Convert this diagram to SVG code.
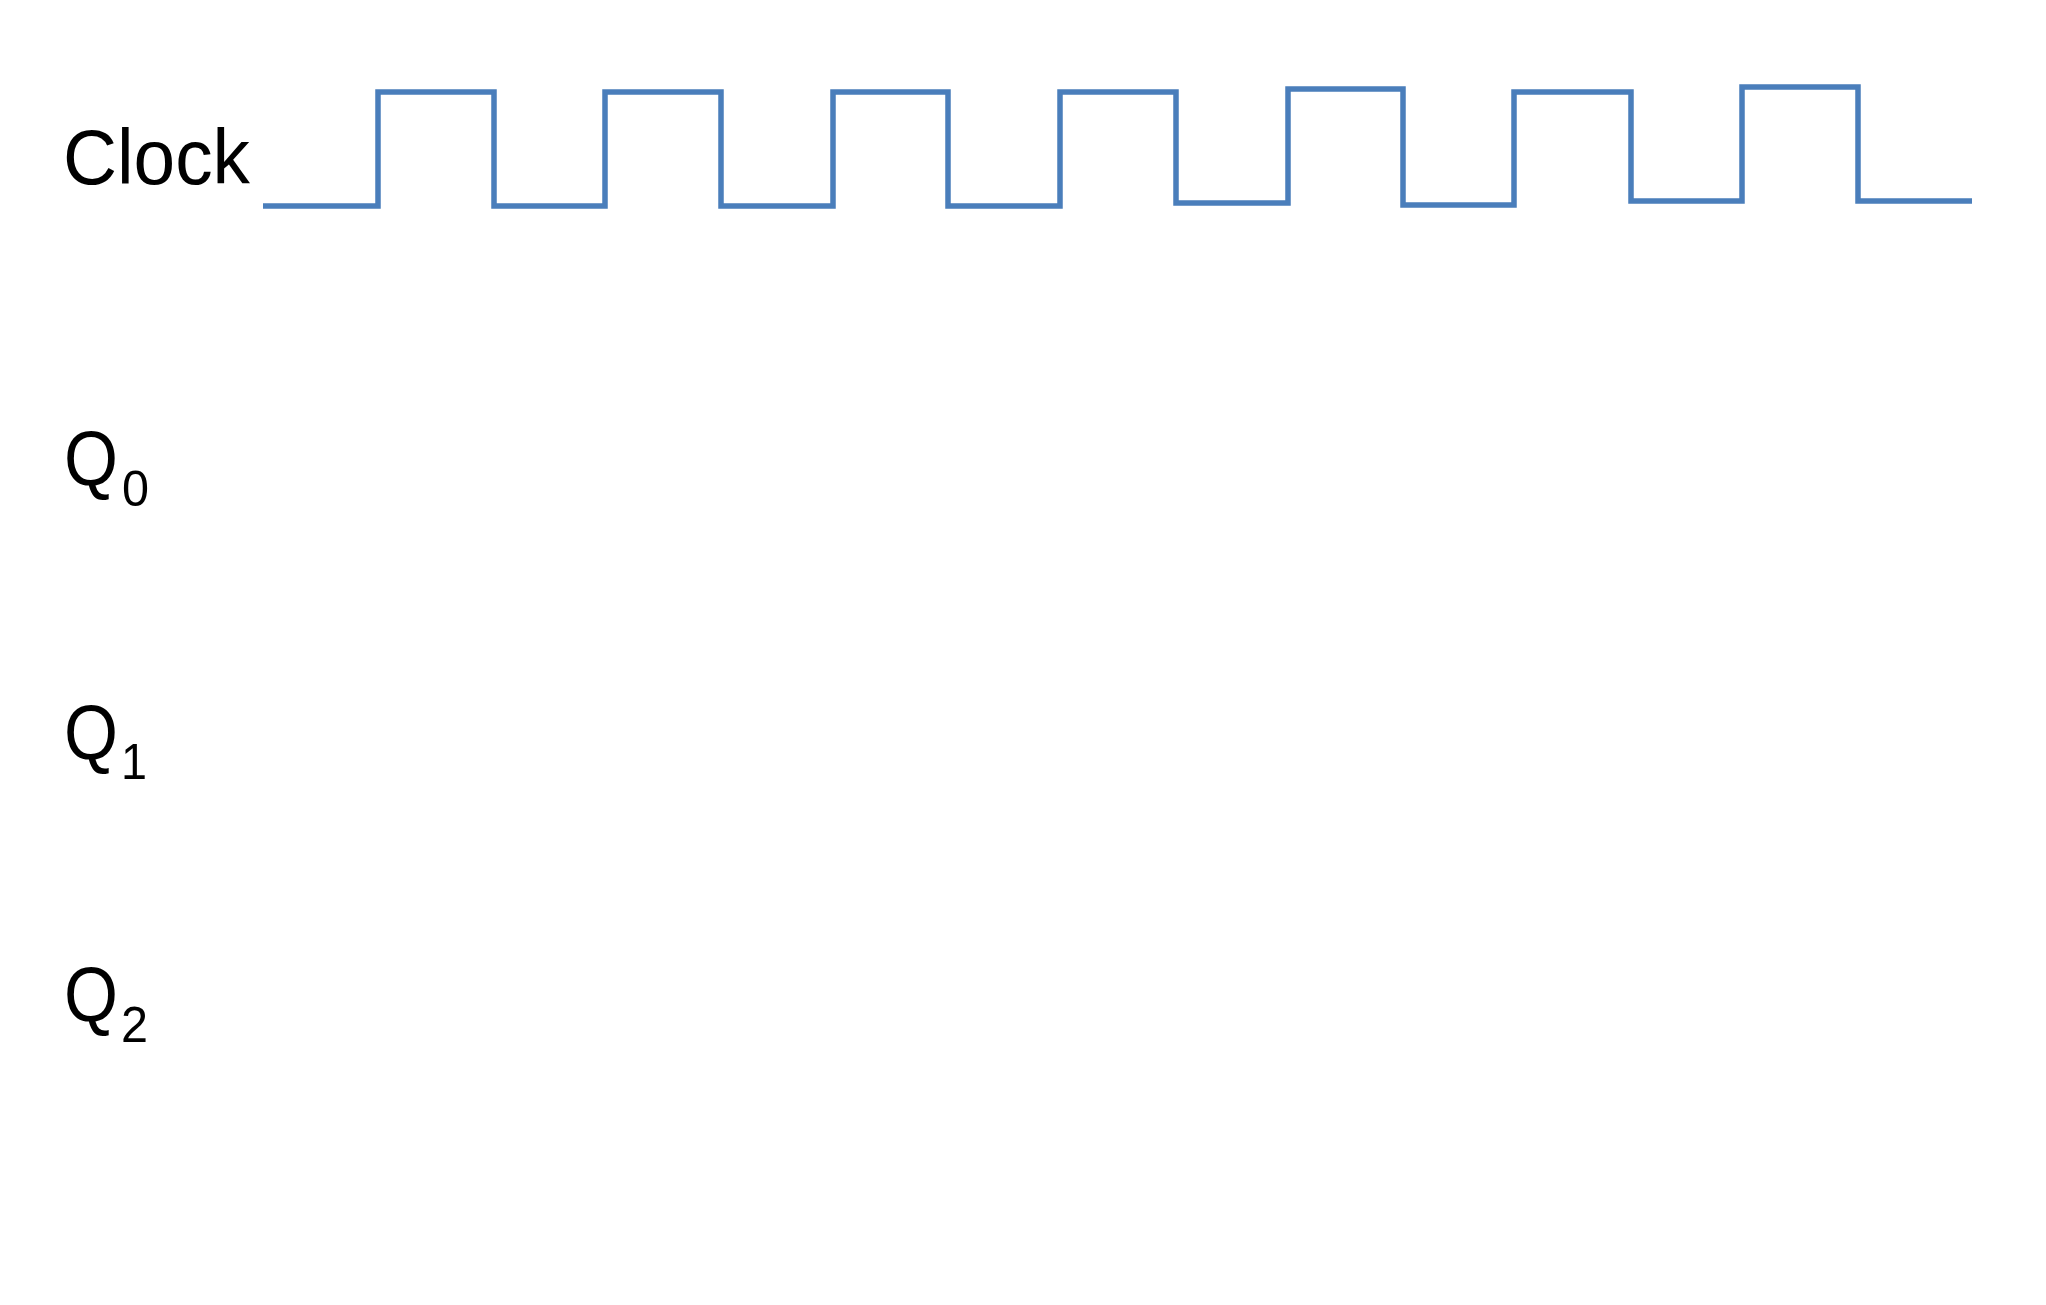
<svg xmlns="http://www.w3.org/2000/svg" width="2046" height="1305" viewBox="0 0 2046 1305">
  <style>
    .lbl { font-family: "Liberation Sans", Arial, sans-serif; font-size: 77px; fill: #000000; }
    .sub { font-family: "Liberation Sans", Arial, sans-serif; font-size: 50px; fill: #000000; }
    .wave { fill: none; stroke: #4A7EBB; stroke-width: 5.5; stroke-linejoin: miter; stroke-linecap: butt; }
  </style>
  <rect x="0" y="0" width="2046" height="1305" fill="#FFFFFF"/>
  <g id="label-clock">
    <text class="lbl" x="63" y="184" textLength="187" lengthAdjust="spacingAndGlyphs">Clock</text>
  </g>
  <g id="label-q0">
    <text class="lbl" x="64" y="485" textLength="54" lengthAdjust="spacingAndGlyphs">Q</text>
    <text class="sub" x="122" y="506" textLength="27" lengthAdjust="spacingAndGlyphs">0</text>
  </g>
  <g id="label-q1">
    <text class="lbl" x="64" y="759" textLength="54" lengthAdjust="spacingAndGlyphs">Q</text>
    <text class="sub" x="121" y="779" textLength="26" lengthAdjust="spacingAndGlyphs">1</text>
  </g>
  <g id="label-q2">
    <text class="lbl" x="64" y="1021" textLength="54" lengthAdjust="spacingAndGlyphs">Q</text>
    <text class="sub" x="121" y="1042" textLength="27" lengthAdjust="spacingAndGlyphs">2</text>
  </g>
  <g id="connectors">
    <path id="clock-wave" class="wave" d="M263,206 H378 V92 H494 V206 H605 V92 H721 V206 H833 V92 H948 V206 H1060 V92 H1176 V203 H1288 V89 H1403 V205 H1514 V92 H1631 V201 H1742 V87 H1858 V201 H1972"/>
  </g>
</svg>
